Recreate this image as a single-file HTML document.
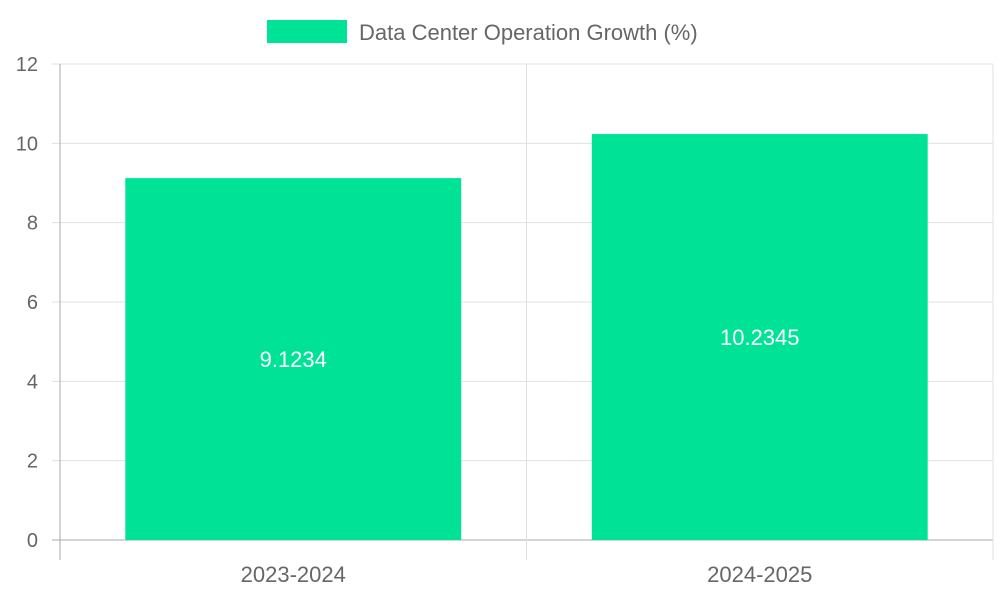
<!DOCTYPE html>
<html><head><meta charset="utf-8"><style>
body{margin:0;background:#fff;}
svg text{font-family:"Liberation Sans",sans-serif;}
</style></head><body>
<svg id="chart" width="1000" height="600">
<g id="legend">
<rect x="267" y="20" width="80" height="23" fill="#00E396"/>
<text x="359" y="40" font-size="22" fill="#666">Data Center Operation Growth (%)</text>
</g>
<g id="grid"></g>
<g id="bars"></g>
<g id="axes"></g>
</svg>
<script>
const categories = ["2023-2024", "2024-2025"];
const values = [9.1234, 10.2345];
const valueLabels = ["9.1234", "10.2345"];
const yTicks = [0, 2, 4, 6, 8, 10, 12];

const L=60,R=993,T=64,B=540,yMax=12;
const ns="http://www.w3.org/2000/svg";
const y=v=>B-(v/yMax)*(B-T);
const bw=(R-L)/categories.length;
const x=i=>L+bw*i;
function mk(tag,attrs,parent,txt){const e=document.createElementNS(ns,tag);for(const k in attrs)e.setAttribute(k,attrs[k]);if(txt!==undefined)e.textContent=txt;document.getElementById(parent).appendChild(e);return e;}

yTicks.forEach(t=>{
  const g=mk('line',{x1:L-8,x2:R,y1:y(t),y2:y(t),stroke:t===0?'#aaa':'#e0e0e0','stroke-width':1},'grid');
  
  
  const lb=mk('text',{x:38,y:y(t)+7,'font-size':20,fill:'#666','text-anchor':'end'},'axes',String(t));
  
  
});
for(let i=0;i<=categories.length;i++){
  const v=mk('line',{x1:x(i),x2:x(i),y1:T,y2:B+20,stroke:i===0?'#aaa':'#e0e0e0','stroke-width':1},'grid');
  
  
}
categories.forEach((c,i)=>{
  const cx=x(i)+bw/2, w=bw*0.72;
  const r=mk('rect',{x:cx-w/2,y:y(values[i]),width:w,height:B-y(values[i]),fill:'#00E396'},'bars');
  
  
  const vl=mk('text',{x:cx,y:(y(values[i])+B)/2+8,'font-size':22,fill:'#fff','text-anchor':'middle'},'bars',valueLabels[i]);
  
  
  const xl=mk('text',{x:cx,y:582,'font-size':22,fill:'#666','text-anchor':'middle'},'axes',c);
  
  
});
</script>
</body></html>
